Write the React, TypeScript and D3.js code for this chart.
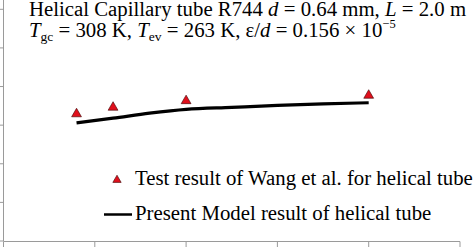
import React from "react";
import * as d3 from "d3";

// Capillary-tube comparison: measured points vs. model curve
const testX = [0.8, 1.2, 2.0, 4.0];
const testY = [3.29, 3.46, 3.63, 3.77];

const modelX = [0.8, 1.2, 1.6, 2.0, 2.5, 3.0, 3.5, 4.0];
const modelY = [3.06, 3.18, 3.31, 3.41, 3.46, 3.51, 3.55, 3.58];

const xTicks = [0, 1, 2, 3, 4, 5];
const yTicks = [0, 1, 2, 3, 4, 5, 6];

const W = 474;
const H = 247;

export default function App() {
  const x = d3.scaleLinear().domain([0, 5]).range([3.5, 460]);
  const y = d3.scaleLinear().domain([0, 6]).range([241, 9.3]);

  const line = d3
    .line<number>()
    .x((_, i) => x(modelX[i]))
    .y((d) => y(d))
    .curve(d3.curveMonotoneX);

  const tri = d3.symbol().type(d3.symbolTriangle).size(42)();
  const triLegend = d3.symbol().type(d3.symbolTriangle).size(30)();

  const font = "'Liberation Serif', 'Times New Roman', serif";
  const axisColor = "#9a9a9a";

  return (
    <svg
      width={W}
      height={H}
      style={{ position: "absolute", left: 0, top: 0, background: "#fff" }}
      fontFamily={font}
    >
      {/* axes */}
      <line x1={3.5} x2={3.5} y1={0} y2={241} stroke={axisColor} strokeWidth={1} />
      {yTicks.map((t) => (
        <line key={"yt" + t} x1={0} x2={3.5} y1={y(t)} y2={y(t)} stroke={axisColor} strokeWidth={1} />
      ))}
      <line x1={3.5} x2={460} y1={241.5} y2={241.5} stroke={axisColor} strokeWidth={1} />
      {xTicks.map((t) => (
        <line key={"xt" + t} x1={x(t)} x2={x(t)} y1={241.5} y2={247} stroke={axisColor} strokeWidth={1} />
      ))}

      {/* model curve */}
      <path d={line(modelY) || ""} fill="none" stroke="#000" strokeWidth={3.2} strokeLinecap="butt" />

      {/* measured points */}
      {testX.map((v, i) => (
        <path
          key={"p" + i}
          d={tri || ""}
          transform={`translate(${x(v)},${y(testY[i])})`}
          fill="#e0101c"
          stroke="#3a0000"
          strokeWidth={0.6}
        />
      ))}

      {/* title */}
      <text x={29} y={15.5} fontSize={20.8} fill="#000">
        Helical Capillary tube R744 <tspan fontStyle="italic">d</tspan> = 0.64 mm,{" "}
        <tspan fontStyle="italic">L</tspan> = 2.0 m
      </text>
      <text x={29} y={36.5} fontSize={20.8} fill="#000">
        <tspan fontStyle="italic">T</tspan>
        <tspan fontSize={13.5} dy={4}>gc</tspan>
        <tspan dy={-4}> = 308 K, </tspan>
        <tspan fontStyle="italic">T</tspan>
        <tspan fontSize={13.5} dy={4}>ev</tspan>
        <tspan dy={-4}> = 263 K, ε/</tspan>
        <tspan fontStyle="italic">d</tspan>
        <tspan> = 0.156 × 10</tspan>
        <tspan fontSize={12.5} dy={-9}>−5</tspan>
      </text>

      {/* legend */}
      <path
        d={triLegend || ""}
        transform="translate(117,180)"
        fill="#e0101c"
        stroke="#3a0000"
        strokeWidth={0.6}
      />
      <text x={135} y={185} fontSize={20.8} fill="#000">
        Test result of Wang et al. for helical tube
      </text>
      <line x1={104} x2={132} y1={214.5} y2={214.5} stroke="#000" strokeWidth={2.5} />
      <text x={135} y={220} fontSize={20.8} fill="#000">
        Present Model result of helical tube
      </text>
    </svg>
  );
}
